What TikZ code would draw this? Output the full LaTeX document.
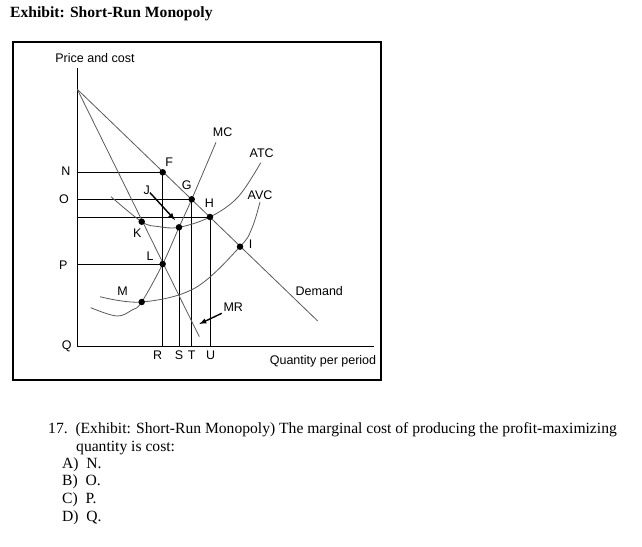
\documentclass[tikz,border=0pt]{standalone}
\usepackage{fontspec}
\setmainfont{Liberation Serif}
\newfontfamily\arial{Liberation Sans}
\begin{document}
\begin{tikzpicture}[x=1pt,y=-1pt,
  lab/.style={font=\arial\fontsize{12.5}{14}\selectfont,inner sep=0pt},
  crv/.style={draw=black!65,line width=0.8pt},
  guide/.style={draw=black,line width=0.6pt},
  dot/.style={circle,fill=black,inner sep=0pt,minimum size=6.5pt},
  qtext/.style={font=\fontsize{15.6}{18}\selectfont,anchor=west,inner sep=0pt}]
\useasboundingbox (0,0) rectangle (642,546);
\node[anchor=west,inner sep=0pt,font=\bfseries\fontsize{15.6}{18}\selectfont] (title) at (10,14) {Exhibit: Short-Run Monopoly};
\draw[line width=1.5pt] (13,42) rectangle (381,380);
% axes
\coordinate (O0) at (77.3,346);
\draw[line width=0.7pt] (77.3,68) -- (O0) -- (374,346);
% points
\coordinate (top) at (77.3,89.3);
\coordinate (dend) at (317.7,321);
\coordinate (mrend) at (199.3,336.7);
\coordinate (F) at (162.7,172.3);
\coordinate (G) at (191.7,199.3);
\coordinate (H) at (210,217);
\coordinate (K) at (141.7,221.7);
\coordinate (J) at (179,227.3);
\coordinate (L) at (162.7,264);
\coordinate (I) at (240,246.7);
\coordinate (M) at (141.7,302);
% guide lines
\draw[guide] (77.3,172.3) -- (F) -- (162.7,346);
\draw[guide] (77.3,199.3) -- (G) -- (191.7,346);
\draw[guide] (77.3,217) -- (H) -- (210,346);
\draw[guide] (77.3,264) -- (L);
\draw[guide] (J) -- (179,346);
% demand and MR
\draw[crv] (top) -- (dend);
\draw[crv] (top) -- (mrend);
% MC
\draw[crv] plot[smooth,tension=0.6] coordinates {(90.7,307.7) (116.7,316) (132,310) (M) (L) (J) (G) (216,142.3)};
% ATC
\draw[crv] plot[smooth,tension=0.6] coordinates {(111,196.7) (K) (158,226.5) (J) (H) (238,197) (260.7,162.7)};
% AVC
\draw[crv] plot[smooth,tension=0.6] coordinates {(100,296.7) (M) (195,288) (I) (252,228) (260,202)};
% dots
\foreach \p in {F,G,H,K,J,L,I,M} \node[dot] (d\p) at (\p) {};
% arrows
\coordinate (ja) at (150,192.7); \coordinate (jb) at (175,220);
\draw[-latex,line width=1.4pt] (ja) -- (jb);
\coordinate (ma) at (221.7,313.3); \coordinate (mb) at (199.3,324);
\draw[-latex,line width=1.4pt] (ma) -- (mb);
% labels
\node[lab] (pc) at (95,58) {Price and cost};
\node[lab] (lMC) at (222.7,132.3) {MC};
\node[lab] (lATC) at (261.7,153.3) {ATC};
\node[lab] (lAVC) at (260,195) {AVC};
\node[lab] (lF) at (169.3,161.7) {F};
\node[lab] (lG) at (186.7,185) {G};
\node[lab] (lJ) at (146.7,190) {J};
\node[lab] (lH) at (209.3,203.3) {H};
\node[lab] (lK) at (137.3,233.3) {K};
\node[lab] (lL) at (150,256) {L};
\node[lab] (lI) at (250.7,244) {I};
\node[lab] (lM) at (122.7,290.7) {M};
\node[lab] (lMR) at (233.3,306.7) {MR};
\node[lab] (lD) at (319.3,290.7) {Demand};
\node[lab] (lN) at (66,171) {N};
\node[lab] (lO) at (64,199.3) {O};
\node[lab] (lP) at (63.3,265) {P};
\node[lab] (lQ) at (66.7,346.7) {Q};
\node[lab] (lR) at (157.7,355) {R};
\node[lab] (lS) at (179,355) {S};
\node[lab] (lT) at (191.7,355) {T};
\node[lab] (lU) at (210.7,355) {U};
\node[lab] (lqp) at (323,361.7) {Quantity per period};
% question
\node[qtext] (q1) at (48,430) {17.\ \ (Exhibit: Short-Run Monopoly) The marginal cost of producing the profit-maximizing};
\node[qtext] (q2) at (76,448) {quantity is cost:};
\node[qtext] (qa) at (62,465) {A)\ \ N.};
\node[qtext] (qb) at (62,482) {B)\ \ O.};
\node[qtext] (qc) at (62,500) {C)\ \ P.};
\node[qtext] (qd) at (62,518) {D)\ \ Q.};
\end{tikzpicture}
\end{document}
